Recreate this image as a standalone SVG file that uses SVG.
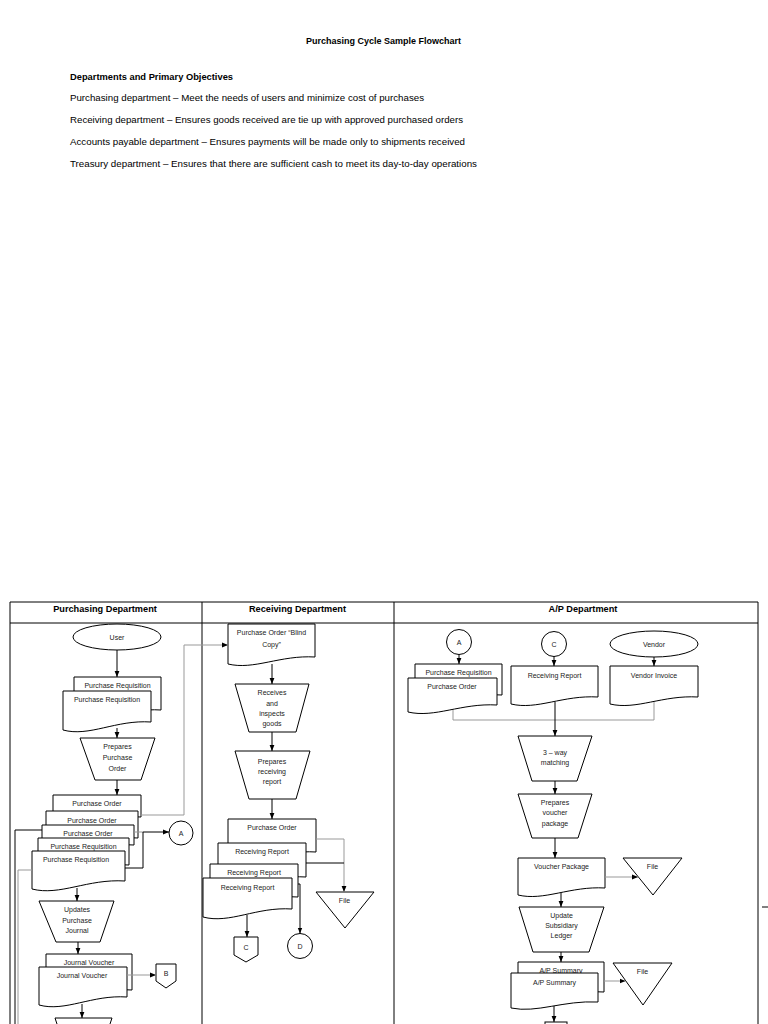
<svg xmlns="http://www.w3.org/2000/svg" width="768" height="1024" viewBox="0 0 768 1024">
<style>
.bg{fill:#fff}
.frame{fill:none;stroke:#000;stroke-width:1}
.doc{fill:#fff;stroke:#000;stroke-width:1}
.sh{fill:#fff;stroke:#000;stroke-width:1}
.t{font-family:"Liberation Sans",Arial,sans-serif;font-size:7px;text-anchor:middle;fill:#222}
.h{font-family:"Liberation Sans",Arial,sans-serif;font-size:9.2px;font-weight:bold;text-anchor:middle;fill:#000}
.top{font-family:"Liberation Sans",Arial,sans-serif;font-size:9.5px;fill:#000}
.ln{fill:none;stroke:#000;stroke-width:1}
.gl{fill:none;stroke:#999;stroke-width:1}
</style>
<defs>
<marker id="ah" viewBox="0 0 10 10" refX="10" refY="5" markerWidth="6" markerHeight="6" markerUnits="userSpaceOnUse" orient="auto"><path d="M0,1 L10,5 L0,9 Z" fill="#000"/></marker>
</defs>
<rect class="bg" x="0" y="0" width="768" height="1024"/>

<g id="intro">
<text class="top" x="306" y="44" font-weight="bold" textLength="155" lengthAdjust="spacingAndGlyphs">Purchasing Cycle Sample Flowchart</text>
<text class="top" x="70" y="80" font-weight="bold" textLength="163" lengthAdjust="spacingAndGlyphs">Departments and Primary Objectives</text>
<text class="top" x="70" y="101" textLength="354" lengthAdjust="spacingAndGlyphs">Purchasing department – Meet the needs of users and minimize cost of purchases</text>
<text class="top" x="70" y="123" textLength="393" lengthAdjust="spacingAndGlyphs">Receiving department – Ensures goods received are tie up with approved purchased orders</text>
<text class="top" x="70" y="145" textLength="395" lengthAdjust="spacingAndGlyphs">Accounts payable department – Ensures payments will be made only to shipments received</text>
<text class="top" x="70" y="167" textLength="407" lengthAdjust="spacingAndGlyphs">Treasury department – Ensures that there are sufficient cash to meet its day-to-day operations</text>
</g>

<g id="table">
<path class="frame" d="M10,1030 V602 H758 V1030 M10,623 H758 M202,602 V1030 M394,602 V1030"/>
<text class="h" x="105" y="612">Purchasing Department</text>
<text class="h" x="297.5" y="612">Receiving Department</text>
<text class="h" x="583" y="612">A/P Department</text>
<path class="ln" d="M762,907 H768"/>
</g>

<!-- Purchasing department -->
<g id="p-user"><ellipse class="sh" cx="117" cy="637" rx="44" ry="13"/><text class="t" x="117" y="639.5">User</text></g>
<g id="p-req">
<path class="doc" d="M74,677 H161 V710 C126.2,707.6 100.1,725.2 74,718 Z"/><text class="t" x="117.5" y="688">Purchase Requisition</text>
<path class="doc" d="M63,691 H151 V722 C115.8,719.6 89.4,737.2 63,730 Z"/><text class="t" x="107" y="702">Purchase Requisition</text>
</g>
<g id="p-prep"><polygon class="sh" points="80,738 155,738 141,780 95,780"/><text class="t" x="117.5" y="748.5">Prepares</text><text class="t" x="117.5" y="759.5">Purchase</text><text class="t" x="117.5" y="770.5">Order</text></g>
<g id="p-stack">
<path class="doc" d="M53,795 H141 V817 C105.8,814.6 79.4,832.2 53,825 Z"/><text class="t" x="97" y="805.5">Purchase Order</text>
<path class="doc" d="M46,811 H138 V838 C101.2,835.6 73.6,853.2 46,846 Z"/><text class="t" x="92" y="822.5">Purchase Order</text>
<path class="doc" d="M42,825 H134 V845 C97.2,842.6 69.6,860.2 42,853 Z"/><text class="t" x="88" y="835.5">Purchase Order</text>
<path class="doc" d="M38,838 H129 V865 C92.6,862.6 65.3,880.2 38,873 Z"/><text class="t" x="83.5" y="848.5">Purchase Requisition</text>
<path class="doc" d="M32,851 H125 V881 C87.8,878.6 59.9,896.2 32,889 Z"/><text class="t" x="76" y="861.5">Purchase Requisition</text>
</g>
<g id="p-a"><circle class="sh" cx="181" cy="833" r="12"/><text class="t" x="181" y="835.5">A</text></g>
<g id="p-upd"><polygon class="sh" points="39,901 114,901 100,942 56,942"/><text class="t" x="77" y="911.5">Updates</text><text class="t" x="77" y="922.5">Purchase</text><text class="t" x="77" y="932.5">Journal</text></g>
<g id="p-jv">
<path class="doc" d="M46,954 H132 V990 C97.6,987.6 71.8,1005.2 46,998 Z"/><text class="t" x="89" y="965">Journal Voucher</text>
<path class="doc" d="M39,967 H127 V997 C91.8,994.6 65.4,1012.2 39,1005 Z"/><text class="t" x="82" y="977.5">Journal Voucher</text>
</g>
<g id="p-b"><polygon class="sh" points="156,964 176,964 176,981 166,988 156,981"/><text class="t" x="166" y="975.5">B</text></g>
<g id="p-next"><polygon class="sh" points="55,1018 112,1018 98,1060 69,1060"/></g>

<!-- Receiving department -->
<g id="r-blind"><path class="doc" d="M228,624 H315 V657 C280.2,654.9 254.1,670.3 228,664 Z"/><text class="t" x="271.5" y="634.5">Purchase Order “Blind</text><text class="t" x="271.5" y="647">Copy”</text></g>
<g id="r-recv"><polygon class="sh" points="235,684 309,684 296,732 249,732"/><text class="t" x="272" y="694.5">Receives</text><text class="t" x="272" y="705.5">and</text><text class="t" x="272" y="716">inspects</text><text class="t" x="272" y="726">goods</text></g>
<g id="r-prep"><polygon class="sh" points="235,751 310,751 296,799 249,799"/><text class="t" x="272" y="763.5">Prepares</text><text class="t" x="272" y="773.5">receiving</text><text class="t" x="272" y="783.5">report</text></g>
<g id="r-stack">
<path class="doc" d="M228,819 H316 V852 C280.8,849.6 254.4,867.2 228,860 Z"/><text class="t" x="272" y="829.5">Purchase Order</text>
<path class="doc" d="M218,843 H306 V877 C270.8,874.6 244.4,892.2 218,885 Z"/><text class="t" x="262" y="854">Receiving Report</text>
<path class="doc" d="M210,864 H298 V897 C262.8,894.6 236.4,912.2 210,905 Z"/><text class="t" x="254" y="875">Receiving Report</text>
<path class="doc" d="M203,878 H292 V909 C256.4,906.6 229.7,924.2 203,917 Z"/><text class="t" x="247.5" y="889.5">Receiving Report</text>
</g>
<g id="r-file"><polygon class="sh" points="316,892 374,892 345,928"/><text class="t" x="344.5" y="902.5">File</text></g>
<g id="r-c"><polygon class="sh" points="234,937 258,937 258,955 246,962 234,955"/><text class="t" x="246" y="949.5">C</text></g>
<g id="r-d"><circle class="sh" cx="300" cy="946" r="12.5"/><text class="t" x="300" y="948.5">D</text></g>

<!-- A/P department -->
<g id="ap-a"><circle class="sh" cx="459" cy="642" r="12.5"/><text class="t" x="459" y="644.5">A</text></g>
<g id="ap-c"><circle class="sh" cx="554" cy="644" r="12.5"/><text class="t" x="554" y="646.5">C</text></g>
<g id="ap-vendor"><ellipse class="sh" cx="654" cy="644" rx="44" ry="13"/><text class="t" x="654" y="646.5">Vendor</text></g>
<g id="ap-po">
<path class="doc" d="M415,664 H502 V695 C467.2,692.9 441.1,708.3 415,702 Z"/><text class="t" x="458.5" y="674.5">Purchase Requisition</text>
<path class="doc" d="M408,678 H497 V705 C461.4,702.9 434.7,718.3 408,712 Z"/><text class="t" x="452" y="688.5">Purchase Order</text>
</g>
<g id="ap-rr"><path class="doc" d="M511,666 H598 V697 C563.2,694.9 537.1,710.3 511,704 Z"/><text class="t" x="554.5" y="677.5">Receiving Report</text></g>
<g id="ap-vi"><path class="doc" d="M610,666 H698 V697 C662.8,694.9 636.4,710.3 610,704 Z"/><text class="t" x="654" y="677.5">Vendor Invoice</text></g>
<g id="ap-match"><polygon class="sh" points="518,736 592,736 577,781 532,781"/><text class="t" x="555" y="754.5">3 – way</text><text class="t" x="555" y="764.5">matching</text></g>
<g id="ap-prep"><polygon class="sh" points="518,794 592,794 578,838 532,838"/><text class="t" x="555" y="804.5">Prepares</text><text class="t" x="555" y="815">voucher</text><text class="t" x="555" y="825.5">package</text></g>
<g id="ap-vp"><path class="doc" d="M518,858 H605 V888 C570.2,885.9 544.1,901.3 518,895 Z"/><text class="t" x="561.5" y="869">Voucher Package</text></g>
<g id="ap-file1"><polygon class="sh" points="623,858 682,858 653,895"/><text class="t" x="652.5" y="869">File</text></g>
<g id="ap-upd"><polygon class="sh" points="519,907 604,907 589,952 533,952"/><text class="t" x="561.5" y="917.5">Update</text><text class="t" x="561.5" y="928">Subsidiary</text><text class="t" x="561.5" y="938">Ledger</text></g>
<g id="ap-sum">
<path class="doc" d="M518,962 H604 V992 C569.6,989.9 543.8,1005.3 518,999 Z"/><text class="t" x="561" y="972.5">A/P Summary</text>
<path class="doc" d="M511,973 H598 V1002 C563.2,1000.2 537.1,1013.4 511,1008 Z"/><text class="t" x="554.5" y="984.5">A/P Summary</text>
</g>
<g id="ap-file2"><polygon class="sh" points="613,963 672,963 643,1005"/><text class="t" x="642.5" y="973.5">File</text></g>
<g id="ap-next"><rect class="sh" x="545" y="1022" width="22" height="12"/></g>

<g id="connectors">
<path class="ln" d="M117,650 V677" marker-end="url(#ah)"/>
<path class="ln" d="M117,728 V738" marker-end="url(#ah)"/>
<path class="ln" d="M117,780 V795" marker-end="url(#ah)"/>
<path class="gl" d="M141,815 H184 V645 H228" marker-end="url(#ah)"/>
<path class="gl" d="M134,832 H143"/>
<path class="ln" d="M125,868 H143 V832 H169" marker-end="url(#ah)"/>
<path class="ln" d="M42,830 H15 V1030"/>
<path class="gl" d="M32,870 H18 V1030"/>
<path class="ln" d="M77,888 V901" marker-end="url(#ah)"/>
<path class="ln" d="M78,942 V954" marker-end="url(#ah)"/>
<path class="gl" d="M127,975 H156" marker-end="url(#ah)"/>
<path class="ln" d="M82,1004 V1018" marker-end="url(#ah)"/>
<path class="ln" d="M272,664 V684" marker-end="url(#ah)"/>
<path class="ln" d="M272,732 V751" marker-end="url(#ah)"/>
<path class="ln" d="M272,799 V819" marker-end="url(#ah)"/>
<path class="gl" d="M316,839 H344 V892" marker-end="url(#ah)"/>
<path class="ln" d="M306,863 H344"/>
<path class="ln" d="M247,915 V937" marker-end="url(#ah)"/>
<path class="ln" d="M298,884 H300 V933.5" marker-end="url(#ah)"/>
<path class="ln" d="M459,654.5 V664" marker-end="url(#ah)"/>
<path class="ln" d="M554,656.5 V666" marker-end="url(#ah)"/>
<path class="ln" d="M654,657 V666" marker-end="url(#ah)"/>
<path class="gl" d="M453,710 V720 H654 V702"/>
<path class="ln" d="M555,702 V736" marker-end="url(#ah)"/>
<path class="ln" d="M555,781 V794" marker-end="url(#ah)"/>
<path class="ln" d="M555,838 V858" marker-end="url(#ah)"/>
<path class="gl" d="M605,877 H638" marker-end="url(#ah)"/>
<path class="ln" d="M561,893 V907" marker-end="url(#ah)"/>
<path class="ln" d="M561,952 V962" marker-end="url(#ah)"/>
<path class="gl" d="M604,981 H625.5" marker-end="url(#ah)"/>
<path class="ln" d="M554,1006 V1022" marker-end="url(#ah)"/>
</g>
</svg>
